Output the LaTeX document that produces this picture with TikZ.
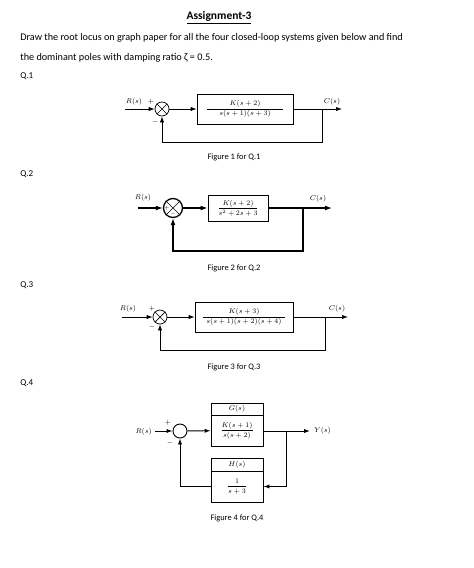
\documentclass[tikz,border=0pt]{standalone}
\usepackage{amsmath}
\usepackage{fontspec}
\setmainfont{Carlito}
\usetikzlibrary{arrows.meta}
\newcommand{\wfrac}[3]{\dfrac{\makebox[#1]{$#2$}}{\makebox[#1]{$#3$}}}
\begin{document}
\begin{tikzpicture}[x=1pt,y=-1pt,>={Latex[length=6pt,width=4.2pt]},line width=0.7pt,
  blk/.style={draw,inner sep=0pt,font=\fontsize{7.5}{8}\selectfont},
  sumx/.style={draw,circle,minimum size=14pt,inner sep=0pt},
  lbl/.style={inner sep=1pt,font=\fontsize{7.5}{8}\selectfont},
  sgn/.style={inner sep=0pt,font=\fontsize{7}{8}\selectfont},
  figcap/.style={font=\fontsize{8.4}{10}\selectfont},
  qlbl/.style={anchor=west,inner sep=0pt,font=\fontsize{9}{10}\selectfont},
  body/.style={anchor=west,inner sep=0pt,font=\fontsize{10.2}{12}\selectfont}]
  \useasboundingbox (0,0) rectangle (474,568);

  % Kopf
  \node (title) at (219,18) {\fontsize{11.5}{13}\selectfont\bfseries\underline{Assignment-3}};
  \node[body] (line1) at (20,38) {Draw the root locus on graph paper for all the four closed-loop systems given below and find};
  \node[body] (line2) at (20,58) {the dominant poles with damping ratio ζ = 0.5.};

  \node[qlbl] (q1) at (20,76) {Q.1};
  \node[qlbl] (q2) at (20,174) {Q.2};
  \node[qlbl] (q3) at (20,285) {Q.3};
  \node[qlbl] (q4) at (20,383) {Q.4};

  % Bild 1
  \node[sumx] (s1) at (162,109) {};
  \draw (s1.45) -- (s1.225) (s1.135) -- (s1.315);
  \node[blk,minimum width=96pt,minimum height=30pt] (g1) at (245,109) {$\wfrac{76pt}{K(s+2)}{s(s+1)(s+3)}$};
  \coordinate (r1) at (125,109);
  \coordinate (b1) at (322,109);
  \coordinate (f1) at (322,142);
  \coordinate (c1) at (342,109);
  \node[lbl] (rl1) at (134,102) {$R(s)$};
  \node[lbl] (cl1) at (332,102) {$C(s)$};
  \node[sgn] (p1) at (151,102) {$+$};
  \node[sgn] (m1) at (155,122) {$-$};
  \draw[->] (r1) -- (s1);
  \draw[->] (s1) -- (g1);
  \draw[->] (g1) -- (c1);
  \draw[->] (b1) -- (f1) -| (s1);
  \node[figcap] (cap1) at (234,157) {Figure 1 for Q.1};

  % Bild 2
  \begin{scope}[line width=1.3pt,>={Latex[length=7pt,width=5pt]}]
  \node[sumx,minimum size=19pt] (s2) at (173,208) {};
  \draw[line width=0.6pt] (s2.45) -- (s2.225) (s2.135) -- (s2.315);
  \node[blk,line width=0.9pt,minimum width=60pt,minimum height=26pt] (g2) at (238,208) {$\dfrac{K(s+2)}{s^2+2s+3}$};
  \coordinate (r2) at (138,208);
  \coordinate (b2) at (303,208);
  \coordinate (f2) at (303,251);
  \coordinate (c2) at (332,208);
  \draw[->] (r2) -- (s2);
  \draw[->] (s2) -- (g2);
  \draw[->] (g2) -- (c2);
  \draw[->] (b2) -- (f2) -| (s2);
  \end{scope}
  \node[lbl] (rl2) at (143,198) {$R(s)$};
  \node[lbl] (cl2) at (318,199) {$C(s)$};
  \node[sgn,font=\fontsize{5}{6}\selectfont] (p2) at (167,208) {$+$};
  \node[sgn,font=\fontsize{5}{6}\selectfont] (m2) at (173,214) {$-$};
  \node[figcap] (cap2) at (234,268) {Figure 2 for Q.2};

  % Bild 3
  \node[sumx] (s3) at (160,317) {};
  \draw (s3.45) -- (s3.225) (s3.135) -- (s3.315);
  \node[blk,minimum width=98pt,minimum height=30pt] (g3) at (244,317) {$\wfrac{82pt}{K(s+3)}{s(s+1)(s+2)(s+4)}$};
  \coordinate (r3) at (122,317);
  \coordinate (b3) at (325,317);
  \coordinate (f3) at (325,350);
  \coordinate (c3) at (348,317);
  \node[lbl] (rl3) at (128,309) {$R(s)$};
  \node[lbl] (cl3) at (337,309) {$C(s)$};
  \node[sgn] (p3) at (152,309) {$+$};
  \node[sgn] (m3) at (152,327) {$-$};
  \draw[->] (r3) -- (s3);
  \draw[->] (s3) -- (g3);
  \draw[->] (g3) -- (c3);
  \draw[->] (b3) -- (f3) -| (s3);
  \node[figcap] (cap3) at (234,367) {Figure 3 for Q.3};

  % Bild 4
  \begin{scope}[line width=0.9pt]
  \node[sumx] (s4) at (180,431) {};
  \node[blk,minimum width=52pt,minimum height=12pt] (gt4) at (237,409) {$G(s)$};
  \node[blk,minimum width=52pt,minimum height=31pt] (g4) at (237,430.5) {$\dfrac{K(s+1)}{s(s+2)}$};
  \node[blk,minimum width=52pt,minimum height=13pt] (ht4) at (237,464.5) {$H(s)$};
  \node[blk,minimum width=52pt,minimum height=31pt] (h4) at (237,486.5) {$\dfrac{1}{s+3}$};
  \coordinate (r4) at (155,431);
  \coordinate (b4) at (286,431);
  \coordinate (f4) at (286,486.5);
  \coordinate (y4) at (310,431);
  \draw[->] (r4) -- (s4);
  \draw[->] (s4) -- (g4);
  \draw[->] (g4.east |- s4) -- (y4);
  \draw[->] (b4) -- (f4) -- (h4);
  \draw[->] (h4) -| (s4);
  \end{scope}
  \node[lbl,anchor=east] (rl4) at (153,432) {$R(s)$};
  \node[lbl,anchor=west] (yl4) at (313,431) {$Y(s)$};
  \node[sgn] (p4) at (168,423) {$+$};
  \node[sgn] (m4) at (170,443) {$-$};
  \node[figcap] (cap4) at (237,518) {Figure 4 for Q.4};
\end{tikzpicture}
\end{document}
